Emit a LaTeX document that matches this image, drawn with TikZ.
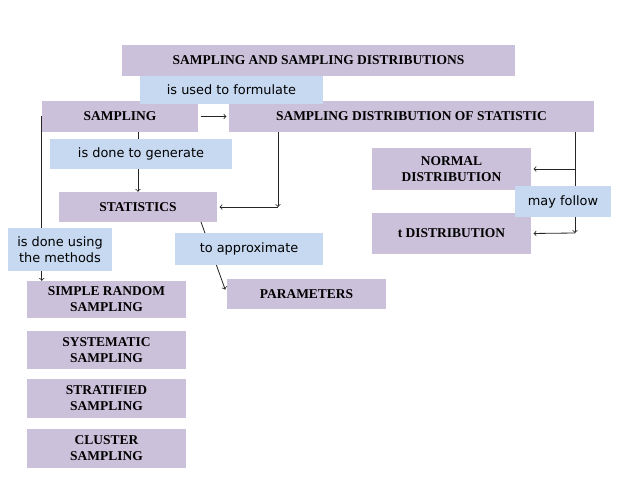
\documentclass[tikz,border=0pt]{standalone}
\usepackage{fontspec}
\setmainfont{Liberation Serif}
\newfontfamily\labelfont{DejaVu Sans}
\usetikzlibrary{positioning}
\definecolor{boxpurple}{HTML}{CCC1DA}
\definecolor{boxblue}{HTML}{C6D9F1}
\tikzset{
  concept/.style={fill=boxpurple,draw=none,align=center,inner sep=0pt,
    font=\bfseries\fontsize{11.5}{13.5}\selectfont},
  relation/.style={fill=boxblue,draw=none,align=center,inner sep=0pt,
    font=\labelfont\fontsize{11}{14}\selectfont},
  link/.style={->,>=to,line width=0.7pt,black!85}
}
\newcommand{\cbox}[6]{\node[#1,minimum width=#4*0.03cm,minimum height=#5*0.03cm] (#6) at (#2,#3) }
\begin{document}
\begin{tikzpicture}[x=0.03cm,y=-0.03cm]
	\useasboundingbox (0,0) rectangle (638,478);
	% concepts
	\cbox{concept}{318.5}{60.5}{393}{31}{title} {SAMPLING AND SAMPLING DISTRIBUTIONS};
	\cbox{concept}{120}{116.5}{156}{31}{samp} {SAMPLING};
	\cbox{concept}{411.5}{116.5}{365}{31}{sds} {SAMPLING DISTRIBUTION OF STATISTIC};
	\cbox{concept}{451.5}{169}{159}{42}{normal} {NORMAL\\DISTRIBUTION};
	\cbox{concept}{138}{207}{158}{30}{stat} {STATISTICS};
	\cbox{concept}{451.5}{233.5}{159}{41}{tdist} {t DISTRIBUTION};
	\cbox{concept}{306.5}{294}{159}{30}{param} {PARAMETERS};
	\cbox{concept}{106.5}{299.5}{159}{37}{srs} {SIMPLE RANDOM\\SAMPLING};
	\cbox{concept}{106.5}{350}{159}{38}{sys} {SYSTEMATIC\\SAMPLING};
	\cbox{concept}{106.5}{398.5}{159}{39}{strat} {STRATIFIED\\SAMPLING};
	\cbox{concept}{106.5}{448.5}{159}{39}{clus} {CLUSTER\\SAMPLING};
	% connectors
	\coordinate (k1) at (278,207);
	\coordinate (k2) at (575,233);
	\coordinate (k3) at (201,222);
	\draw[link,shorten <=2pt,shorten >=2pt] (samp.east) -- (sds.west);
	\draw[link] (stat.north |- samp.south) -- (stat.north);
	\draw[link] (samp.west) -- (samp.west |- srs.north);
	\draw[link] (sds.south -| k1) -- (k1);
	\draw[link,shorten >=2pt] (k1) -- (stat.east);
	\draw[link] (sds.south -| k2) -- (k2);
	\draw[link,shorten >=2pt] (k2) -- (tdist.east);
	\draw[link,shorten >=2pt] (normal.east -| k2) -- (normal.east);
	\draw[link,shorten >=4pt] (k3) -- (param.west);
	% relations
	\cbox{relation}{231.5}{90}{183}{28}{used} {is used to formulate};
	\cbox{relation}{141}{154}{182}{30}{gen} {is done to generate};
	\cbox{relation}{563}{201.5}{96}{31}{may} {may follow};
	\cbox{relation}{60}{249.5}{104}{43}{meth} {is done using\\the methods};
	\cbox{relation}{249}{249}{148}{32}{approx} {to approximate};
\end{tikzpicture}
\end{document}
